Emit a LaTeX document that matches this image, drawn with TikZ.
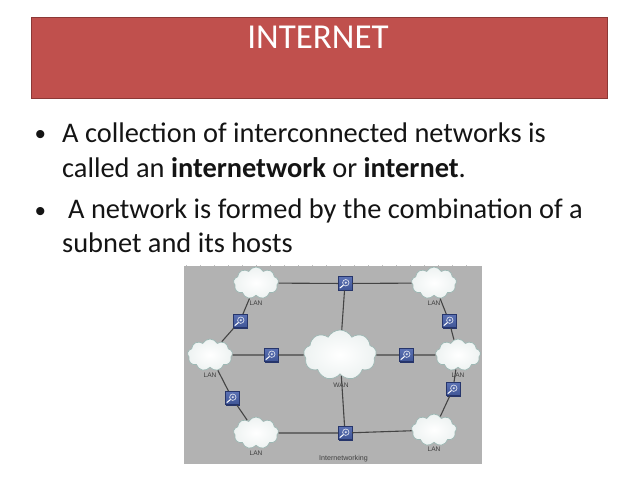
\documentclass[tikz,border=0pt]{standalone}
\usepackage{fontspec}
\setmainfont{Carlito}
\setsansfont{Liberation Sans}
\usetikzlibrary{shapes.symbols,shadows}
\definecolor{titlered}{HTML}{C0504D}
\definecolor{titleedge}{HTML}{8C3836}
\definecolor{netgray}{HTML}{B2B2B2}
\definecolor{wirecol}{HTML}{444444}
\definecolor{routerblue}{HTML}{3F5596}
\definecolor{routerlight}{HTML}{5C72B4}
\definecolor{routerdark}{HTML}{26356B}
\definecolor{cloudedge}{HTML}{9DB8B4}
\tikzset{
  x=1pt,y=-1pt,
  titlebox/.style={draw=titleedge,line width=1pt,fill=titlered,minimum width=576pt,minimum height=81pt,inner sep=0pt},
  titletext/.style={font=\fontsize{35}{35}\selectfont,text=white,inner sep=0pt,anchor=base},
  bodytext/.style={font=\fontsize{28.4}{28.4}\selectfont,text=black!92,inner sep=0pt,anchor=base west},
  bullettext/.style={font=\sffamily\fontsize{30}{30}\selectfont,text=black!92,inner sep=0pt,anchor=base west},
  cloudnode/.style={cloud,cloud puffs=9,cloud puff arc=125,aspect=1.45,inner sep=0pt,draw=cloudedge,line width=0.7pt,inner color=white,outer color=white!82!cloudedge},
  smallcloud/.style={cloudnode,minimum width=45pt,minimum height=32pt},
  bigcloud/.style={cloudnode,minimum width=73pt,minimum height=50pt},
  routerbox/.style={rectangle,minimum width=13.5pt,minimum height=13.5pt,inner sep=0pt,top color=routerlight,bottom color=routerblue,draw=routerdark,line width=0.5pt,
    general shadow={fill=routerdark,shadow xshift=1.2pt,shadow yshift=-1.2pt},
    path picture={
      \draw[white!80!routerblue,line width=0.7pt] (path picture bounding box.center) ++(0.8,-0.8) circle[radius=3.2pt];
      \fill[white!80!routerblue] (path picture bounding box.center) ++(0.8,-0.8) circle[radius=1.2pt];
      \draw[white,line width=1pt] (path picture bounding box.center) ++(-1.6,1.6) -- ++(-3.6,3);
    }},
  wire/.style={draw=wirecol,line width=1.1pt},
  lanlabel/.style={font=\sffamily\fontsize{6.6}{6.6}\selectfont,text=black!75,inner sep=0pt},
}
\begin{document}
\begin{tikzpicture}
\useasboundingbox (0,0) rectangle (638,478);
\fill[white] (0,0) rectangle (638,478);
\node[titlebox] (title) at (319,58.5) {};
\node[titletext] (titlelabel) at (318,49) {INTERNET};
\node[bullettext] (b1) at (35,145) {•};
\node[bodytext] (l1) at (62,143) {A collection of interconnected networks is};
\node[bodytext] (l2) at (62,177.5) {called an \textbf{internetwork} or \textbf{internet}.};
\node[bullettext] (b2) at (35,222) {•};
\node[bodytext] (l3) at (68,219) {A network is formed by the combination of a};
\node[bodytext] (l4) at (62,252.5) {subnet and its hosts};

\node[fill=netgray,minimum width=298pt,minimum height=198pt,inner sep=0pt] (panel) at (333,365.5) {};
\coordinate (tickL) at (186,265.5);
\coordinate (tickR) at (470,265.5);
\draw[black!25,line width=0.5pt,dash pattern=on 1pt off 13pt] (tickL) -- (tickR);

\node[smallcloud] (ctl) at (256,283) {};
\node[smallcloud] (ctr) at (434,283) {};
\node[smallcloud] (cl) at (210,355) {};
\node[smallcloud] (cr) at (458,355) {};
\node[smallcloud] (cbl) at (256,433) {};
\node[smallcloud] (cbr) at (434,430) {};
\node[bigcloud] (wan) at (340,355) {};

\node[routerbox] (rt) at (345,283.5) {};
\node[routerbox] (rtl) at (240,321) {};
\node[routerbox] (rtr) at (449,321) {};
\node[routerbox] (rml) at (271,355) {};
\node[routerbox] (rmr) at (406,355) {};
\node[routerbox] (rll) at (232,398) {};
\node[routerbox] (rlr) at (453,389) {};
\node[routerbox] (rb) at (345,433) {};

\node[lanlabel] (ltl) at (256,303.5) {LAN};
\node[lanlabel] (ltr) at (434,303.5) {LAN};
\node[lanlabel] (ll) at (210,375) {LAN};
\node[lanlabel] (lr) at (458,375) {LAN};
\node[lanlabel] (lbl) at (256,453) {LAN};
\node[lanlabel] (lbr) at (434,449.5) {LAN};
\node[lanlabel] (lw) at (341,385.5) {WAN};
\node[lanlabel,font=\sffamily\fontsize{7.1}{7.1}\selectfont] (lnet) at (343.5,458.5) {Internetworking};

\draw[wire] (ctl) -- (rt);
\draw[wire] (rt) -- (ctr);
\draw[wire] (rt) -- (wan);
\draw[wire] (ctl) -- (rtl);
\draw[wire] (rtl) -- (cl);
\draw[wire] (cl) -- (rml);
\draw[wire] (rml) -- (wan);
\draw[wire] (wan) -- (rmr);
\draw[wire] (rmr) -- (cr);
\draw[wire] (ctr) -- (rtr);
\draw[wire] (rtr) -- (cr);
\draw[wire] (cl) -- (rll);
\draw[wire] (rll) -- (cbl);
\draw[wire] (cbl) -- (rb);
\draw[wire] (rb) -- (cbr);
\draw[wire] (rb) -- (wan);
\draw[wire] (cr) -- (rlr);
\draw[wire] (rlr) -- (cbr);
\end{tikzpicture}
\end{document}
